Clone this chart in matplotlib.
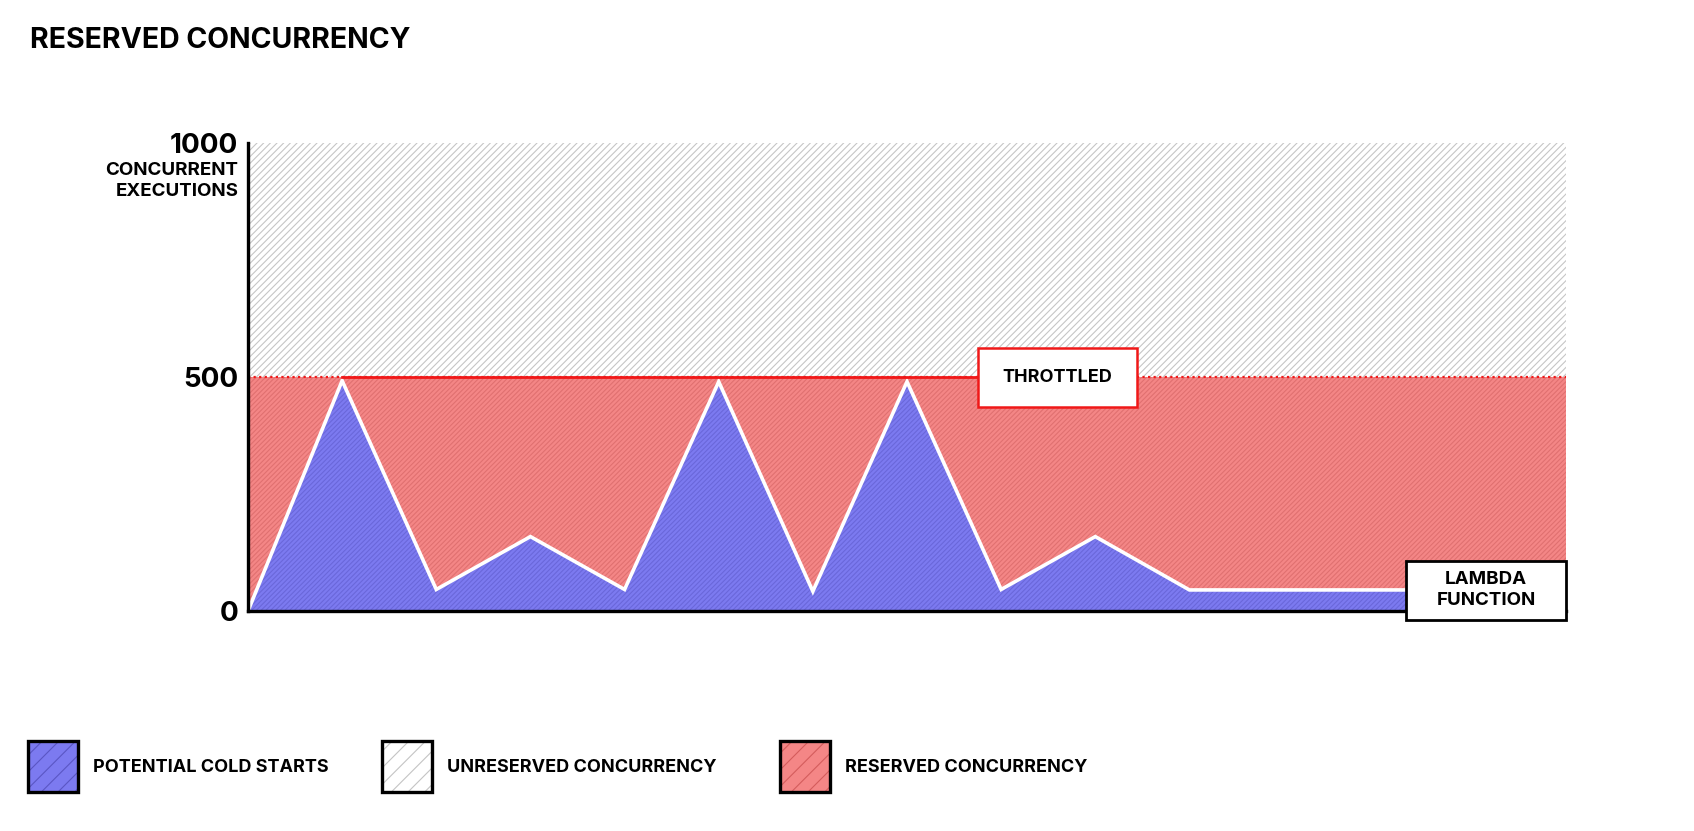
import matplotlib.pyplot as plt
from matplotlib.patches import Rectangle

# data
time_steps = [0, 1, 2, 3, 4, 5, 6, 7, 8, 9, 10, 14]
cold_starts = [0, 492, 46, 159, 46, 490, 42, 490, 46, 159, 45, 45]
reserved_limit = 500
account_limit = 1000
throttle_start = 1
y_ticks = [0, 500, 1000]
legend_labels = ['POTENTIAL COLD STARTS', 'UNRESERVED CONCURRENCY', 'RESERVED CONCURRENCY']

BLUE, BLUE_HATCH = '#7c7af0', '#6a67da'
RED, RED_HATCH = '#f48686', '#e07070'
GRAY_HATCH = '#c6c6c6'
LINE_RED = '#f01818'

plt.rcParams['font.family'] = ['Inter', 'DejaVu Sans']
plt.rcParams['hatch.linewidth'] = 0.8

W, H = 1694, 831
fig = plt.figure(figsize=(W / 100, H / 100), dpi=100)
ax = fig.add_axes([248 / W, 1 - 611 / H, (1566 - 248) / W, (611 - 143) / H])

x0, x1 = time_steps[0], time_steps[-1]

# unreserved (gray), reserved (red), cold starts (blue)
ax.fill_between([x0, x1], reserved_limit, account_limit, facecolor='white',
                edgecolor=GRAY_HATCH, hatch='/' * 5, linewidth=0)
ax.fill_between([x0, x1], 0, reserved_limit, facecolor=RED,
                edgecolor=RED_HATCH, hatch='/' * 7, linewidth=0)
ax.fill_between(time_steps, 0, cold_starts, facecolor=BLUE,
                edgecolor=BLUE_HATCH, hatch='/' * 7, linewidth=0)
ax.plot(time_steps, cold_starts, color='white', linewidth=2.6,
        solid_joinstyle='miter', zorder=3)

# reserved limit line: dotted, solid where throttling happens
throttle_box = (7.75, 435, 1.69, 128)   # x, y, width, height (data units)
ax.plot([x0, x1], [reserved_limit] * 2, color=LINE_RED, linewidth=1.6,
        linestyle=(0, (1, 1.5)), zorder=4)
ax.plot([throttle_start, throttle_box[0]], [reserved_limit] * 2,
        color=LINE_RED, linewidth=2.0, zorder=4)

ax.add_patch(Rectangle(throttle_box[:2], throttle_box[2], throttle_box[3],
                       facecolor='white', edgecolor=LINE_RED, linewidth=1.8, zorder=5))
ax.text(throttle_box[0] + throttle_box[2] / 2, throttle_box[1] + throttle_box[3] / 2,
        'THROTTLED', ha='center', va='center', fontsize=13, fontweight='bold', zorder=6)

lambda_box = (12.3, -19, 1.7, 126)
ax.add_patch(Rectangle(lambda_box[:2], lambda_box[2], lambda_box[3],
                       facecolor='white', edgecolor='black', linewidth=2.0,
                       zorder=7, clip_on=False))
ax.text(lambda_box[0] + lambda_box[2] / 2, lambda_box[1] + lambda_box[3] / 2,
        'LAMBDA\nFUNCTION', ha='center', va='center', fontsize=13.5,
        fontweight='bold', linespacing=1.3, zorder=8)

ax.set_xlim(x0, x1)
ax.set_ylim(0, account_limit)
ax.set_xticks([])
ax.set_yticks(y_ticks)
ax.set_yticklabels([str(v) for v in y_ticks], fontsize=20, fontweight='bold')
ax.tick_params(axis='y', length=0, pad=7)
for side in ['top', 'right']:
    ax.spines[side].set_visible(False)
for side in ['left', 'bottom']:
    ax.spines[side].set_linewidth(2.4)
    ax.spines[side].set_zorder(6)

ax.annotate('CONCURRENT\nEXECUTIONS', xy=(0, account_limit), xycoords='data',
            xytext=(-7, -14), textcoords='offset points', ha='right', va='top',
            fontsize=13.5, fontweight='bold', linespacing=1.3)

fig.text(30 / W, 1 - 40 / H, 'RESERVED CONCURRENCY', ha='left', va='center',
         fontsize=20.5, fontweight='bold')

# legend drawn by hand
swatches = [(BLUE, '#5a56c4'), ('white', '#c4c4c4'), (RED, '#d45c5c')]
swatch_left = [28, 382, 780]
for (fc, hc), left, label in zip(swatches, swatch_left, legend_labels):
    fig.patches.append(Rectangle((left / W, 1 - 792 / H), 50 / W, 51 / H,
                                 transform=fig.transFigure, facecolor=fc,
                                 edgecolor=hc, hatch='//', linewidth=0))
    fig.patches.append(Rectangle((left / W, 1 - 792 / H), 50 / W, 51 / H,
                                 transform=fig.transFigure, facecolor='none',
                                 edgecolor='black', linewidth=2.4))
    fig.text((left + 65) / W, 1 - 768 / H, label, ha='left', va='center',
             fontsize=13, fontweight='bold')

fig.savefig('out.png', dpi=100)
